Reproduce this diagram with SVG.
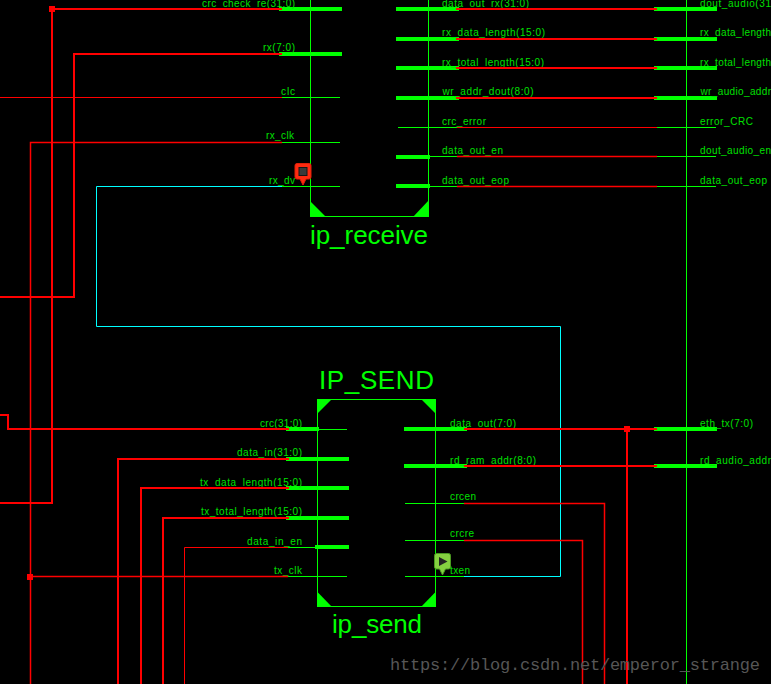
<svg xmlns="http://www.w3.org/2000/svg" width="771" height="684" viewBox="0 0 771 684">
<style>
text{font-family:"Liberation Sans",Arial,sans-serif}
.l{font-size:10px;fill:#00e000}
.e{text-anchor:end}
.t{font-size:26px;fill:#00ff00}
.f{fill:none;stroke:#00ff00;stroke-width:1}
.b{fill:none;stroke:#00ff00;stroke-width:4}
.c{fill:#00ff00}
.r1{fill:none;stroke:#ff0000;stroke-width:1}
.r2{fill:none;stroke:#ff0000;stroke-width:1.5}
.r3{fill:none;stroke:#ff0000;stroke-width:2}
.cy{fill:none;stroke:#00ffff;stroke-width:1}
.j{fill:#ff0000}
</style>
<rect width="771" height="684" fill="#000000"/>
<g id="ip_receive">
<path class="f" d="M310.5 0V216.5H428.5V0"/>
<path class="c" d="M310 201L325.500 216.500L310 217Z"/>
<path class="c" d="M429 200L413 217H429Z"/>
<path class="b" d="M279 9H342M279 54H342M396 9H459M396 39H459M396 68H459M396 98H459M396 157H430M396 186H430"/>
<path class="f" d="M281 97.500H340M281 142.500H340M281 186.500H340M398 127.500H457M430 156.500H457M430 186.500H457"/>
<text class="l e" x="295" y="6.500" textLength="93">crc_check_re(31:0)</text>
<text class="l e" x="295" y="51" textLength="32">rx(7:0)</text>
<text class="l e" x="295" y="95" textLength="14">clc</text>
<text class="l e" x="294" y="139" textLength="28">rx_clk</text>
<text class="l e" x="295" y="184" textLength="26">rx_dv</text>
<text class="l" x="442" y="6.500" textLength="87">data_out_rx(31:0)</text>
<text class="l" x="442" y="36" textLength="103">rx_data_length(15:0)</text>
<text class="l" x="442" y="66" textLength="102">rx_total_length(15:0)</text>
<text class="l" x="442.500" y="95" textLength="91">wr_addr_dout(8:0)</text>
<text class="l" x="442" y="125" textLength="44">crc_error</text>
<text class="l" x="442" y="154" textLength="61">data_out_en</text>
<text class="l" x="442" y="184" textLength="67">data_out_eop</text>
<text class="t" x="310" y="243.500" textLength="118">ip_receive</text>
</g>
<g id="ip_send">
<path class="f" d="M317.500 399.500H435.500V606.500H317.500Z"/>
<path class="c" d="M317 399H332L317 414Z"/>
<path class="c" d="M421 399H436V414Z"/>
<path class="c" d="M317 591.500L332 607H317Z"/>
<path class="c" d="M436 591.500L421 607H436Z"/>
<path class="b" d="M286 429H319M286 459H349M286 488H349M286 518H349M315 547H349M404 429H467M404 466H467"/>
<path class="f" d="M319 429.500H347M288 547.500H315M288 576.500H347M405 503.500H464M405 540.500H464M405 576.500H464"/>
<text class="l e" x="302" y="427" textLength="42">crc(31:0)</text>
<text class="l e" x="302" y="456" textLength="65">data_in(31:0)</text>
<text class="l e" x="302" y="486" textLength="102">tx_data_length(15:0)</text>
<text class="l e" x="302" y="515" textLength="101">tx_total_length(15:0)</text>
<text class="l e" x="302" y="545" textLength="55">data_in_en</text>
<text class="l e" x="302" y="574" textLength="28">tx_clk</text>
<text class="l" x="450" y="427" textLength="66">data_out(7:0)</text>
<text class="l" x="450" y="464" textLength="86">rd_ram_addr(8:0)</text>
<text class="l" x="450" y="500" textLength="26">crcen</text>
<text class="l" x="450" y="537" textLength="24">crcre</text>
<text class="l" x="450" y="574" textLength="20">txen</text>
<text class="t" x="319" y="389" textLength="115">IP_SEND</text>
<text class="t" x="332" y="633" textLength="90">ip_send</text>
</g>
<g id="output_module">
<path class="f" d="M686.500 0V684"/>
<path class="b" d="M654 9H717M654 39H717M654 68H717M654 98H717M654 429H717M654 466H717"/>
<path class="f" d="M657 127.500H716M657 156.500H716M657 186.500H716"/>
<text class="l" x="700" y="6.500" textLength="71">dout_audio(31</text>
<text class="l" x="700" y="36" textLength="71">rx_data_length</text>
<text class="l" x="700" y="66" textLength="71">rx_total_length</text>
<text class="l" x="700.500" y="95" textLength="70.500">wr_audio_addr</text>
<text class="l" x="700" y="125" textLength="53">error_CRC</text>
<text class="l" x="700" y="154" textLength="71">dout_audio_en</text>
<text class="l" x="700" y="184" textLength="67">data_out_eop</text>
<text class="l" x="700" y="427" textLength="53">eth_tx(7:0)</text>
<text class="l" x="700" y="464" textLength="71">rd_audio_addr</text>
</g>
<g id="connectors">
<path class="r3" d="M282 9H52V503H0"/>
<path class="r3" d="M282 54H74V297H0"/>
<path class="r1" d="M0 97.500H282"/>
<path class="r2" d="M282 142.500H30.500V684"/>
<path class="cy" d="M282 186.500H96.500V326.500H560.500V576.500H464"/>
<path class="r3" d="M0 415H8V429H289"/>
<path class="r3" d="M289 459H118V684"/>
<path class="r3" d="M289 488H141V684"/>
<path class="r3" d="M289 518H163V684"/>
<path class="r1" d="M288 547.500H184.500V684"/>
<path class="r2" d="M288 576.500H30.500"/>
<path class="r3" d="M456 9H657M456 39H657M456 68H657M456 98H657"/>
<path class="r1" d="M457 127.500H657"/>
<path class="r2" d="M457 156.500H657M457 186.500H657"/>
<path class="r3" d="M464 429H657M464 466H657"/>
<path class="r3" d="M627 429V684"/>
<path class="r2" d="M464 503.500H604.500V684"/>
<path class="r2" d="M464 540.500H582.500V684"/>
<rect class="j" x="49" y="6" width="6" height="6"/>
<rect class="j" x="27" y="574" width="6" height="6"/>
<rect class="j" x="624" y="426" width="6" height="6"/>
</g>
<g id="marker_red">
<path fill="#ff2a10" stroke="#e02008" d="M297 163.500H309Q311 163.500 311 165.500V177Q311 179 309 179H306L303 185L300 179H297Q295 179 295 177V165.500Q295 163.500 297 163.500Z"/>
<rect x="299" y="167.500" width="8" height="8" fill="#3a3a3a" stroke="#161616"/>
</g>
<g id="marker_green">
<path fill="#84d040" stroke="#4a9a20" d="M436.500 553.500H448.500Q450.500 553.500 450.500 555.500V567Q450.500 569 448.500 569H445.500L442.500 575L439.500 569H436.500Q434.500 569 434.500 567V555.500Q434.500 553.500 436.500 553.500Z"/>
<path fill="#222222" d="M439 557L447.500 561.500L439 566Z"/>
</g>
<text x="390" y="670" font-size="17" fill="#565656" style="font-family:'Liberation Mono',monospace" textLength="370">https://blog.csdn.net/emperor_strange</text>
</svg>
